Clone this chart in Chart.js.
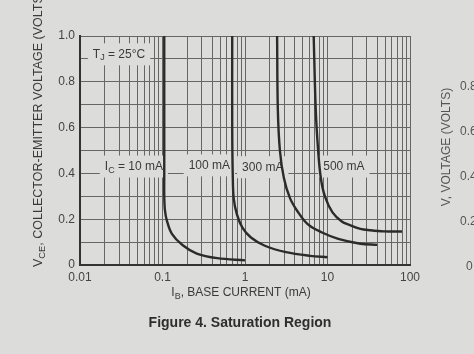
<!DOCTYPE html>
<html>
<head>
<meta charset="utf-8">
<script src="https://cdn.jsdelivr.net/npm/chart.js@4"></script>
<style>
  html, body { margin: 0; padding: 0; background: #dcdcda; }
  #box { width: 474px; height: 354px; }
</style>
</head>
<body>
<div id="box"><canvas id="grafico" width="474" height="354"></canvas></div>
<script>
// curves: base current (mA) vs collector-emitter voltage (V), one pair per Ic
const curveLabels = ['10 mA', '100 mA', '300 mA', '500 mA'];
const ib10  = [0.105, 0.105, 0.105, 0.107, 0.113, 0.13, 0.176, 0.26, 0.46, 1.0];
const vce10 = [1.0, 0.4, 0.3, 0.24, 0.194, 0.136, 0.086, 0.05, 0.03, 0.02];
const ib100  = [0.7, 0.7, 0.71, 0.73, 0.8, 0.93, 1.18, 1.74, 3.14, 6.15, 10];
const vce100 = [1.0, 0.6, 0.4, 0.29, 0.22, 0.163, 0.12, 0.084, 0.056, 0.04, 0.034];
const ib300  = [2.45, 2.5, 2.65, 2.96, 3.5, 4.3, 5.8, 8.6, 13.5, 25, 40];
const vce300 = [1.0, 0.68, 0.5, 0.38, 0.293, 0.236, 0.177, 0.142, 0.114, 0.093, 0.088];
const ib500  = [6.8, 7.2, 7.7, 8.3, 9.3, 11.5, 14.9, 18.4, 25, 33, 48, 80];
const vce500 = [1.0, 0.68, 0.5, 0.38, 0.3, 0.23, 0.19, 0.175, 0.158, 0.152, 0.147, 0.146];

const xTickValues = [0.01, 0.1, 1, 10, 100];
const xTickLabels = ['0.01', '0.1', '1', '10', '100'];
const yTickValues = [0, 0.2, 0.4, 0.6, 0.8, 1.0];
const yTickLabels = ['0', '0.2', '0.4', '0.6', '0.8', '1.0'];

// the piece of the next figure that shows on the right edge of the photo
const sideTitle = 'V, VOLTAGE (VOLTS)';
const sideTicks = ['0', '0.2', '0.4', '0.6', '0.8'];

const papel = '#dcdcda';
const tinta = '#2b2b2b';
const fonte = "'Liberation Sans Narrow', 'Liberation Sans', Arial, sans-serif";

// labels in the plot (x in mA, y in volts)
const notas = [
    { seg: [['T'], ['J', 1], [' = 25°C']], x: 0.0297, y: 0.92 },
    { seg: [['I'], ['C', 1], [' = ' + curveLabels[0]]], x: 0.045, y: 0.43 },
    { seg: [[curveLabels[1]]], x: 0.37, y: 0.435 },
    { seg: [[curveLabels[2]]], x: 1.64, y: 0.427 },
    { seg: [[curveLabels[3]]], x: 15.8, y: 0.43 }
];

function larguraRica(ctx, seg, tam) {
    let w = 0;
    for (const s of seg) {
        ctx.font = (s[1] ? tam * 0.75 : tam) + 'px ' + fonte;
        w += ctx.measureText(s[0]).width;
    }
    return w;
}

function textoRico(ctx, seg, x, y, tam) {
    let cx = x;
    for (const s of seg) {
        ctx.font = (s[1] ? tam * 0.75 : tam) + 'px ' + fonte;
        ctx.fillText(s[0], cx, s[1] ? y + tam * 0.3 : y);
        cx += ctx.measureText(s[0]).width;
    }
}

const pluginFigura = {
    id: 'figura',
    beforeDraw(chart) {
        const ctx = chart.ctx;
        ctx.save();
        ctx.fillStyle = papel;
        ctx.fillRect(0, 0, chart.width, chart.height);
        ctx.restore();
    },
    beforeDatasetsDraw(chart) {
        const ctx = chart.ctx;
        const sx = chart.scales.x, sy = chart.scales.y;
        ctx.save();
        ctx.textBaseline = 'middle';
        for (const n of notas) {
            const px = sx.getPixelForValue(n.x);
            const py = sy.getPixelForValue(n.y);
            const w = larguraRica(ctx, n.seg, 12);
            ctx.fillStyle = papel;
            ctx.fillRect(px - w / 2 - 5, py - 11, w + 10, 22);
            ctx.fillStyle = '#3a3a3a';
            textoRico(ctx, n.seg, px - w / 2, py, 12);
        }
        ctx.restore();
    },
    afterDraw(chart) {
        const ctx = chart.ctx;
        ctx.save();
        ctx.fillStyle = '#3a3a3a';
        ctx.textBaseline = 'middle';

        // x axis title
        const segX = [['I'], ['B', 1], [', BASE CURRENT (mA)']];
        const wx = larguraRica(ctx, segX, 12);
        textoRico(ctx, segX, 241 - wx / 2, 293, 12);

        // y axis title, read from the bottom up
        ctx.save();
        ctx.translate(39, 267);
        ctx.rotate(-Math.PI / 2);
        textoRico(ctx, [['V'], ['CE', 1], [', COLLECTOR-EMITTER VOLTAGE (VOLTS)']], 0, 0, 12.5);
        ctx.restore();

        // caption
        ctx.font = 'bold 14px ' + fonte.replace("'Liberation Sans Narrow', ", '');
        ctx.textAlign = 'center';
        ctx.fillStyle = '#2e2e2e';
        ctx.fillText('Figure 4. Saturation Region', 240, 323);

        // neighbouring figure
        ctx.fillStyle = '#555';
        ctx.save();
        ctx.translate(447, 147);
        ctx.rotate(-Math.PI / 2);
        ctx.font = '12px ' + fonte;
        ctx.fillText(sideTitle, 0, 0);
        ctx.restore();
        ctx.textAlign = 'left';
        ctx.font = '12px ' + fonte;
        sideTicks.forEach((t, i) => {
            ctx.fillText(t, t === '0' ? 466 : 460, 267 - i * 45);
        });
        ctx.restore();
    }
};

function getGraph() {
    const ctx = document.getElementById('grafico').getContext('2d');
    const pares = [[ib10, vce10], [ib100, vce100], [ib300, vce300], [ib500, vce500]];

    new Chart(ctx, {
        type: 'line',
        data: {
            datasets: pares.map((p, k) => ({
                label: curveLabels[k],
                data: p[0].map((x, i) => ({ x: x, y: p[1][i] })),
                borderColor: tinta,
                borderWidth: 2.4,
                pointRadius: 0,
                tension: 0.35,
                fill: false
            }))
        },
        options: {
            responsive: false,
            animation: false,
            layout: { padding: { left: 0, right: 64, top: 36, bottom: 69 } },
            plugins: { legend: { display: false }, tooltip: { enabled: false } },
            scales: {
                x: {
                    type: 'logarithmic',
                    min: 0.01,
                    max: 100,
                    afterFit(scale) { scale.height = 20; },
                    afterBuildTicks(scale) {
                        const t = [];
                        for (let e = -2; e <= 1; e++) {
                            for (let k = 1; k <= 9; k++) t.push({ value: k * Math.pow(10, e) });
                        }
                        t.push({ value: 100 });
                        scale.ticks = t;
                    },
                    grid: { color: '#666', lineWidth: 1, drawTicks: false },
                    border: { color: '#333', width: 2 },
                    ticks: {
                        autoSkip: false,
                        maxRotation: 0,
                        padding: 5,
                        color: '#444',
                        font: { family: fonte, size: 12 },
                        callback(v) {
                            const i = xTickValues.findIndex(d => Math.abs(d - v) < d * 1e-6);
                            return i >= 0 ? xTickLabels[i] : '';
                        }
                    }
                },
                y: {
                    min: 0,
                    max: 1,
                    afterFit(scale) { scale.width = 80; },
                    afterBuildTicks(scale) {
                        const t = [];
                        for (let i = 0; i <= 10; i++) t.push({ value: i / 10 });
                        scale.ticks = t;
                    },
                    grid: { color: '#666', lineWidth: 1, drawTicks: false },
                    border: { color: '#333', width: 2 },
                    ticks: {
                        autoSkip: false,
                        padding: 5,
                        color: '#444',
                        font: { family: fonte, size: 12 },
                        callback(v) {
                            const i = yTickValues.findIndex(d => Math.abs(d - v) < 1e-6);
                            return i >= 0 ? yTickLabels[i] : '';
                        }
                    }
                }
            }
        },
        plugins: [pluginFigura]
    });
}

getGraph();
</script>
</body>
</html>
